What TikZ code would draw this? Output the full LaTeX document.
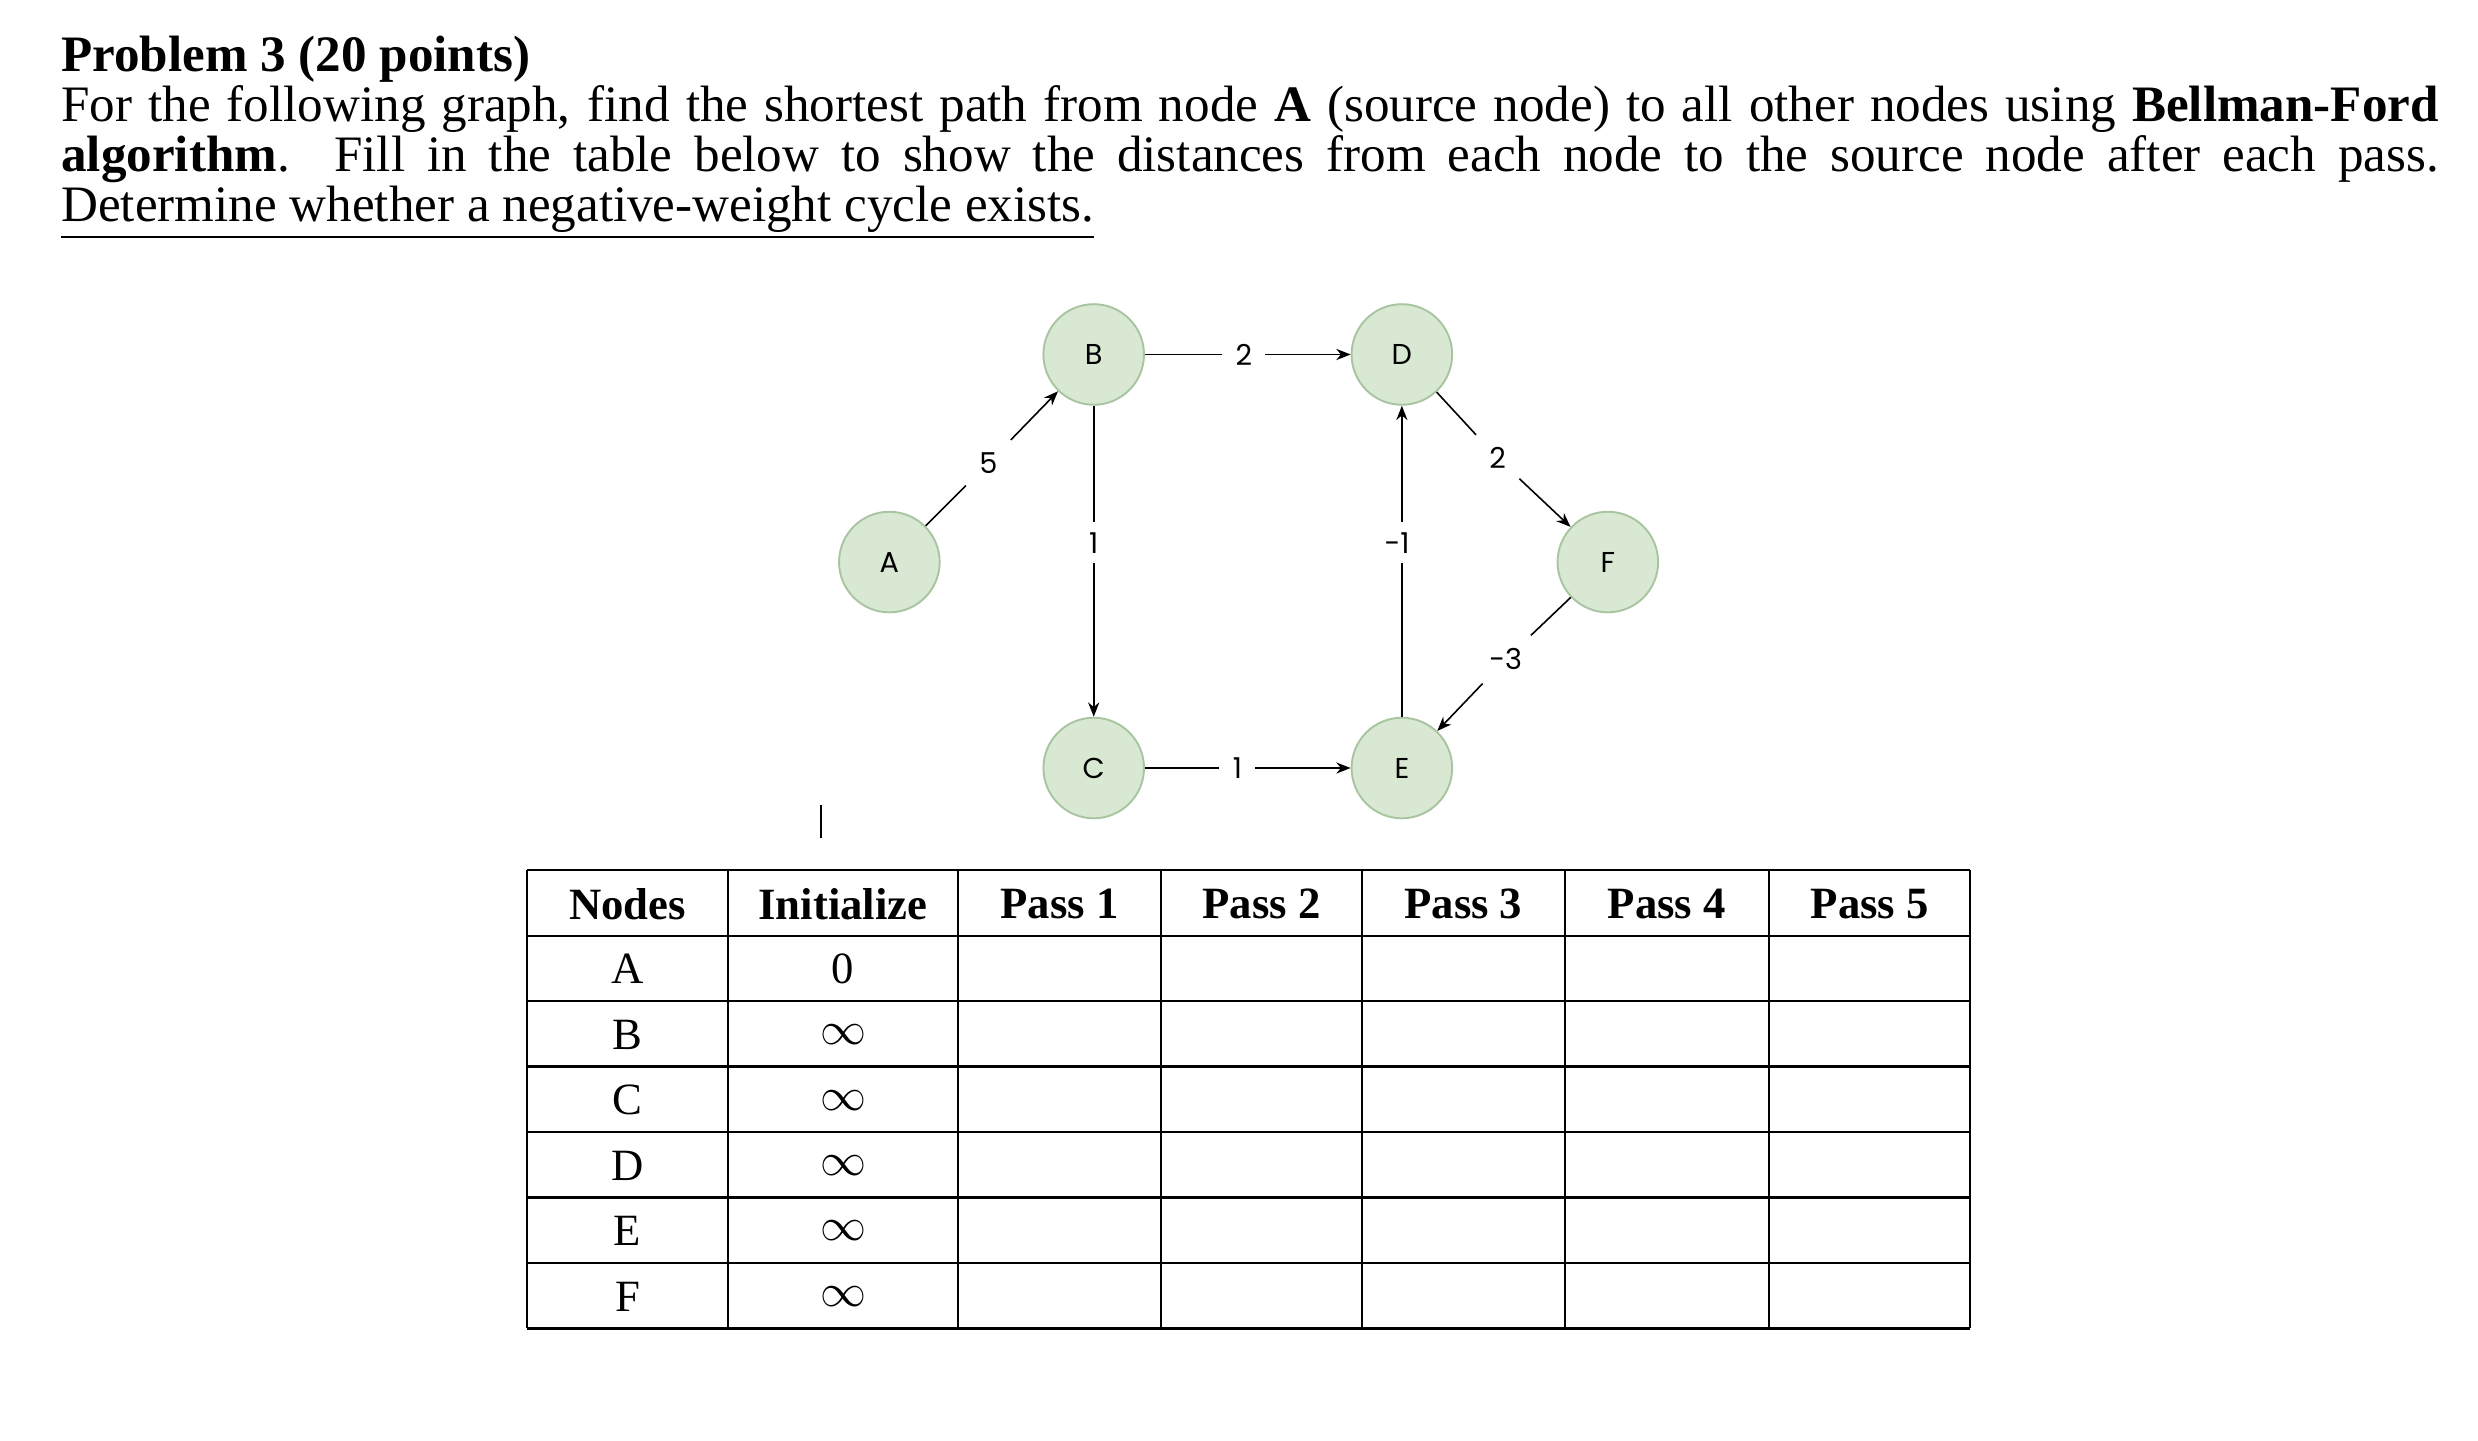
\documentclass[tikz,border=0pt]{standalone}
\usepackage{fontspec}
\setmainfont{Liberation Serif}
\newfontfamily\gfont{Poppins}
\usetikzlibrary{arrows.meta}
\definecolor{nfill}{HTML}{D9E8D3}
\definecolor{ndraw}{HTML}{A9C4A0}
\begin{document}
\begin{tikzpicture}[x=0.5pt,y=-0.5pt,
  vert/.style={circle,fill=nfill,draw=ndraw,line width=0.6pt,minimum size=31.5pt,inner sep=0pt,font=\gfont\fontsize{9}{10}\selectfont},
  lab/.style={inner sep=4pt,font=\gfont\fontsize{9}{10}\selectfont},
  ed/.style={line width=0.5pt},
  ar/.style={line width=0.5pt,-{Stealth[length=4.5pt,width=3.5pt]}},
  cell/.style={font=\fontsize{14}{16}\selectfont}]
\useasboundingbox (0,0) rectangle (1552,902);
\node[anchor=north west,inner sep=0pt,text width=744.5pt,align=justify] (txt) at (38,22)
{\fontsize{16}{20.5}\selectfont\textbf{Problem 3 (20 points)}\\
For the following graph, find the shortest path from node \textbf{A} (source node) to all other nodes using \textbf{\mbox{Bellman-Ford}}\linebreak
\textbf{algorithm}. Fill in the table below to show the distances from each node to the source node after each pass.\linebreak
\underline{Determine whether a negative-weight cycle exists.}};
% graph
\node[vert] (A) at (557,352) {A};
\node[vert] (B) at (685,222) {B};
\node[vert] (D) at (878,222) {D};
\node[vert] (F) at (1007,352) {F};
\node[vert] (C) at (685,481) {C};
\node[vert] (E) at (878,481) {E};
\node[lab] (l5) at (619,290) {5};
\node[lab] (l2a) at (779,222) {2};
\node[lab,inner sep=3pt] (l1a) at (685,340) {1};
\node[lab,inner sep=3pt] (lm1) at (875,340) {-1};
\node[lab] (l2b) at (938,287) {2};
\node[lab] (lm3) at (943,413) {-3};
\node[lab] (l1b) at (775,481) {1};
\draw[ed] (A) -- (l5); \draw[ar] (l5) -- (B);
\draw[ed] (B) -- (l2a); \draw[ar] (l2a) -- (D);
\draw[ed] (B) -- (l1a); \draw[ar] (l1a) -- (C);
\draw[ed] (E) -- (E|-lm1.south); \draw[ar] (D|-lm1.north) -- (D);
\draw[ed] (D) -- (l2b); \draw[ar] (l2b) -- (F);
\draw[ed] (F) -- (lm3); \draw[ar] (lm3) -- (E);
\draw[ed] (C) -- (l1b); \draw[ar] (l1b) -- (E);
\coordinate (t1) at (514,504); \coordinate (t2) at (514,525);
\draw[line width=0.6pt] (t1) -- (t2);
% table
\foreach \y in {545,586,627,668,709,750,791,832} \draw[line width=0.7pt] (330,\y) -- (1234,\y);
\foreach \x in {330,456,600,727,853,980,1108,1234} \draw[line width=0.7pt] (\x,545) -- (\x,832);
\foreach \t [count=\i] in {Nodes,Initialize,Pass 1,Pass 2,Pass 3,Pass 4,Pass 5}{
  \pgfmathsetmacro{\cx}{{0,393,528,663.5,790,916.5,1044,1171}[\i]}
  \node[cell,font=\bfseries\fontsize{14}{16}\selectfont] (h\i) at (\cx,566) {\t};}
\foreach \n/\v [count=\j] in {A/0,B/$\infty$,C/$\infty$,D/$\infty$,E/$\infty$,F/$\infty$}{
  \node[cell] (r\j) at (393,566+41*\j) {\n};
  \node[cell] (v\j) at (528,566+41*\j) {\v};}
\end{tikzpicture}
\end{document}
